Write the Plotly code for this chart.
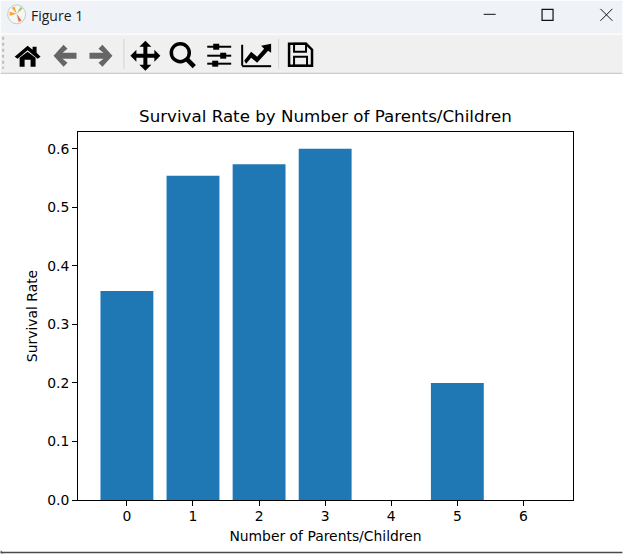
import plotly.graph_objects as go

parents = [0, 1, 2, 3, 4, 5, 6]
survival = [0.3569, 0.5537, 0.5735, 0.6, 0.0, 0.2, 0.0]
y_ticks = [0.0, 0.1, 0.2, 0.3, 0.4, 0.5, 0.6]
y_labels = ["0.0", "0.1", "0.2", "0.3", "0.4", "0.5", "0.6"]

W, H = 623, 554
L, R, T, B = 77.5, 573.5, 131.5, 500.5


def fx(x):
    return (x - L) / (R - L)


def fy(y):
    return (B - y) / (B - T)


def rect(x0, y0, x1, y1, fill, line=None, lw=0):
    return dict(type="rect", xref="paper", yref="paper", layer="below",
                x0=fx(x0), x1=fx(x1), y0=fy(y0), y1=fy(y1),
                fillcolor=fill, line=dict(color=line or fill, width=lw))


def poly(points, fill="rgba(0,0,0,0)", line=None, lw=0, close=True):
    d = "M" + " L".join(f"{fx(x):.5f},{fy(y):.5f}" for x, y in points)
    if close:
        d += " Z"
    return dict(type="path", xref="paper", yref="paper", path=d, fillcolor=fill,
                line=dict(color=line or "rgba(0,0,0,0)", width=lw))


def seg(x0, y0, x1, y1, color="#000000", lw=2, dash="solid"):
    return dict(type="line", xref="paper", yref="paper", x0=fx(x0), x1=fx(x1),
                y0=fy(y0), y1=fy(y1), line=dict(color=color, width=lw, dash=dash))


def circ(x0, y0, x1, y1, fill="rgba(0,0,0,0)", line="#000000", lw=0):
    return dict(type="circle", xref="paper", yref="paper", x0=fx(x0), x1=fx(x1),
                y0=fy(y0), y1=fy(y1), fillcolor=fill, line=dict(color=line, width=lw))


shapes = [
    rect(0, 0, W, 33, "#eff3f8"),
    rect(0, 33, W, 34, "#ffffff"),
    rect(0, 34, W, 72, "#f0f0f0"),
    rect(0, 72, W, 73, "#bcbcbc"),
    rect(0, 552.5, W, 554, "#4a4a4a"),
    poly([(0, 551), (3, 554), (0, 554)], "#4a4a4a"),
    rect(123, 38, 124, 68, "#d4d4d4"),
    rect(278, 38, 279, 68, "#d4d4d4"),
    seg(2.5, 36, 2.5, 68, "#bdbdbd", 2, "dot"),
    # window buttons
    seg(484, 13.5, 496, 13.5, "#111111", 1),
    dict(type="rect", xref="paper", yref="paper", x0=fx(542.5), x1=fx(553.5), y0=fy(8.5), y1=fy(19.5),
         line=dict(color="#111111", width=1.2)),
    seg(601, 8, 613, 20, "#111111", 1),
    seg(613, 8, 601, 20, "#111111", 1),
    # app icon
    circ(7, 4, 25, 23, "#f6f6f6", "#c8c8c8", 1),
    poly([(16, 13), (11, 7), (14, 6)], "#f2a33a"),
    poly([(16, 13), (9, 15), (9, 11)], "#f2a33a"),
    poly([(16, 13), (21, 20), (18, 21)], "#e0703a"),
    poly([(16, 13), (20, 6), (22, 8)], "#9ccc65"),
    # home
    poly([(14, 56), (27, 45), (32, 49), (32, 46), (36, 46), (36, 52), (40, 56), (37, 58), (27, 49.5), (17, 58)], "#000000"),
    poly([(19, 57), (27, 51), (35, 57), (35, 66), (30, 66), (30, 59), (24, 59), (24, 66), (19, 66)], "#000000"),
    # back
    poly([(53, 55), (63, 44), (67, 48), (62, 52), (76, 52), (76, 58), (62, 58), (67, 62), (63, 66)], "#666666"),
    # forward
    poly([(112, 55), (102, 44), (98, 48), (103, 52), (89, 52), (89, 58), (103, 58), (98, 62), (102, 66)], "#666666"),
    # move
    poly([(145, 40), (151, 46), (147, 46), (147, 53), (154, 53), (154, 49), (160, 55), (154, 61), (154, 57),
          (147, 57), (147, 64), (151, 64), (145, 70), (139, 64), (143, 64), (143, 57), (136, 57), (136, 61),
          (130, 55), (136, 49), (136, 53), (143, 53), (143, 46), (139, 46)], "#000000"),
    # zoom
    circ(171, 43, 189, 61, "rgba(0,0,0,0)", "#000000", 3.5),
    seg(187, 59, 194, 66, "#000000", 4.5),
    # sliders
    seg(207, 46, 231, 46, "#000000", 2), rect(213, 43, 219, 49, "#000000"),
    seg(207, 55, 231, 55, "#000000", 2), rect(220, 52, 226, 58, "#000000"),
    seg(207, 63, 231, 63, "#000000", 2), rect(212, 60, 218, 66, "#000000"),
    # chart
    seg(242, 65.5, 271, 65.5, "#000000", 2),
    seg(242, 44, 242, 65, "#000000", 2),
    poly([(244, 60), (251, 51), (257, 56), (264, 48), (261, 45), (271, 43), (271, 52), (268, 50), (257, 62), (251, 57), (246, 63)], "#000000"),
    # save
    poly([(289, 43), (306, 43), (312, 49), (312, 65), (289, 65)], "rgba(0,0,0,0)", "#000000", 2.5),
    poly([(294, 43), (306, 43), (306, 51), (294, 51)], "rgba(0,0,0,0)", "#000000", 2),
    poly([(294, 65), (294, 56), (307, 56), (307, 65)], "rgba(0,0,0,0)", "#000000", 2),
]

fig = go.Figure(go.Bar(x=parents, y=survival, width=0.8, marker=dict(color="#1f77b4", line=dict(width=0))))

font = "DejaVu Sans"
fig.update_layout(
    width=W, height=H, showlegend=False,
    margin=dict(l=L, r=W - R, t=T, b=H - B, autoexpand=False),
    paper_bgcolor="#ffffff", plot_bgcolor="#ffffff",
    font=dict(family=font, size=13, color="#000000"),
    title=dict(text="Survival Rate by Number of Parents/Children", font=dict(family=font, size=16.7, color="#000000"),
               x=(139 + 512) / 2 / W, xanchor="center", y=1 - 116.5 / H, yanchor="middle", pad=dict(l=0, r=0, t=0, b=0)),
    xaxis=dict(range=[-0.74, 6.75], tickmode="array", tickvals=parents, ticktext=[str(p) for p in parents],
               ticks="outside", ticklen=5, tickwidth=1, tickcolor="#000000", showgrid=False, zeroline=False,
               mirror=True, showline=True, linecolor="#000000", linewidth=1, tickfont=dict(size=13.9),
               ticklabelstandoff=-2,
               title=dict(text="Number of Parents/Children", standoff=8, font=dict(size=13.9))),
    yaxis=dict(range=[0, 0.6285], tickmode="array", tickvals=y_ticks, ticktext=y_labels,
               ticks="outside", ticklen=5, tickwidth=1, tickcolor="#000000", showgrid=False, zeroline=False,
               mirror=True, showline=True, linecolor="#000000", linewidth=1, tickfont=dict(size=13.9),
               title=dict(text="Survival Rate", standoff=6, font=dict(size=13.9))),
    shapes=shapes,
    annotations=[dict(text="Figure 1", xref="paper", yref="paper", x=fx(28), y=fy(15), xanchor="left", yanchor="middle",
                      showarrow=False, font=dict(family="Open Sans", size=14, color="#1a1a1a"))],
)
fig.write_html("out.html", config=dict(displayModeBar=False),
               post_script="document.body.style.margin='0';document.documentElement.style.overflow='hidden';")
